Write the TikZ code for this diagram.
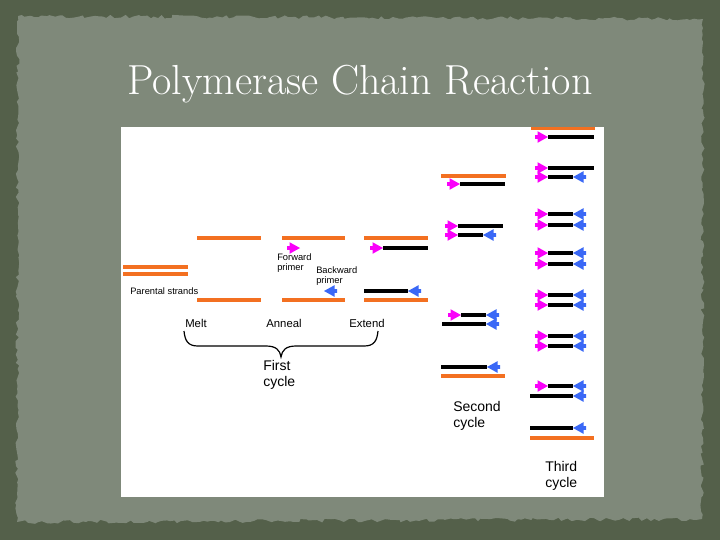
\documentclass[tikz,border=0pt]{standalone}
\usepackage{fontspec}
\newfontfamily\lblfont{Liberation Sans}
\usetikzlibrary{decorations.pathmorphing}
\definecolor{outerbg}{RGB}{84,96,74}
\definecolor{innerbg}{RGB}{127,137,122}
\definecolor{dnaorange}{RGB}{243,112,33}
\definecolor{primerpink}{RGB}{250,0,250}
\definecolor{primerblue}{RGB}{58,104,246}
\tikzset{
  os/.style={draw=dnaorange, line width=2.6pt},
  bs/.style={draw=black, line width=2.6pt},
  fwd/.pic={\fill[primerpink] (0,-1.8) -- (2.5,-1.8) -- (2.5,-5.8) -- (13,0) -- (2.5,5.8) -- (2.5,1.8) -- (0,1.8) -- cycle;},
  bwd/.pic={\fill[primerblue] (13,-1.8) -- (10.5,-1.8) -- (10.5,-5.8) -- (0,0) -- (10.5,5.8) -- (10.5,1.8) -- (13,1.8) -- cycle;},
  lbl/.style={font=\lblfont\fontsize{8.5}{10}\selectfont, inner sep=0pt},
  small/.style={font=\lblfont\fontsize{7}{7.8}\selectfont, inner sep=0pt, align=left, anchor=west},
  cyc/.style={font=\lblfont\fontsize{10.5}{12}\selectfont, inner sep=0pt, align=left, anchor=west}
}
\begin{document}
\begin{tikzpicture}[x=0.75pt,y=-0.75pt]
\useasboundingbox (0,0) rectangle (720,540);
\fill[outerbg] (0,0) rectangle (720,540);
\fill[innerbg, decorate, decoration={random steps, segment length=3pt, amplitude=1.4pt}]
  (18,16) -- (703,19) -- (702,519) -- (17,522) -- cycle;
\node[anchor=base, text=white, inner sep=0pt, font=\fontsize{31.5}{34}\selectfont] (title) at (360,94) {Polymerase Chain Reaction};
\fill[white] (121,127) rectangle (604,497);

% parental
\draw[os] (123,267) -- (188,267);
\draw[os] (123,274) -- (188,274);
\node[small] (par) at (130,291) {Parental strands};
% melt
\draw[os] (197,238) -- (261,238);
\draw[os] (197,300) -- (261,300);
% anneal
\draw[os] (282,238) -- (345,238);
\draw[os] (282,300) -- (345,300);
\pic at (287,248) {fwd};
\pic at (324,291) {bwd};
\node[small] (fp) at (277,263) {Forward\\primer};
\node[small] (bp) at (316,276) {Backward\\primer};
% extend
\draw[os] (364,238) -- (428,238);
\pic at (370,248) {fwd};
\draw[bs] (383,248) -- (428,248);
\draw[bs] (364,291) -- (408,291);
\pic at (408,291) {bwd};
\draw[os] (364,300) -- (428,300);
% labels
\node[lbl] (melt) at (196,323) {Melt};
\node[lbl] (anneal) at (284,323) {Anneal};
\node[lbl] (extend) at (367,323) {Extend};
\draw[line width=0.9pt] (184,331) .. controls (185,341) and (188,346) .. (198,346) -- (266,346)
  .. controls (276,346) and (280,350) .. (281,357)
  .. controls (282,350) and (286,346) .. (296,346) -- (364,346)
  .. controls (374,346) and (377,341) .. (378,331);
\node[cyc] (first) at (263,375) {First\\cycle};

% second cycle
\draw[os] (441,176) -- (506,176);
\pic at (447,184) {fwd};
\draw[bs] (460,184) -- (505,184);
\pic at (445,226) {fwd};
\draw[bs] (458,226) -- (503,226);
\pic at (445,235) {fwd};
\draw[bs] (458,235) -- (483,235);
\pic at (483,235) {bwd};
\pic at (448,315) {fwd};
\draw[bs] (461,315) -- (486,315);
\pic at (486,315) {bwd};
\draw[bs] (442,324) -- (486,324);
\pic at (486,324) {bwd};
\draw[bs] (441,367) -- (487,367);
\pic at (487,367) {bwd};
\draw[os] (441,376) -- (505,376);
\node[cyc] (second) at (453,416) {Second\\cycle};

% third cycle
\draw[os] (531,128.5) -- (595,128.5);
\pic at (535,137) {fwd};
\draw[bs] (548,137) -- (594,137);
\pic at (535,168) {fwd};
\draw[bs] (548,168) -- (594,168);
\foreach \yy in {177,214,225,253,264,295,305,336,346,386} {
  \pic at (535,\yy) {fwd};
  \draw[bs] (548,\yy) -- (573,\yy);
  \pic at (573,\yy) {bwd};
}
\draw[bs] (530,396) -- (573,396);
\pic at (573,396) {bwd};
\draw[bs] (530,428) -- (573,428);
\pic at (573,428) {bwd};
\draw[os] (530,438) -- (594,438);
\node[cyc] (third) at (545,476) {Third\\cycle};
\end{tikzpicture}
\end{document}
